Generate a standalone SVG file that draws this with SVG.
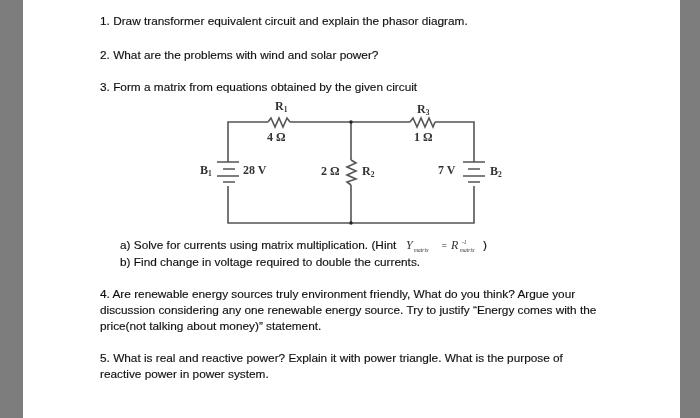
<svg xmlns="http://www.w3.org/2000/svg" width="700" height="418" viewBox="0 0 700 418">
<defs><filter id="b" x="0" y="0" width="1" height="1"><feGaussianBlur stdDeviation="0.3"/></filter></defs>
<style>
.t{font-family:"Liberation Sans",Arial,sans-serif;font-size:11.82px;fill:#111;stroke:#111;stroke-width:.15}
.c{font-family:"Liberation Serif","Times New Roman",serif;font-size:12px;font-weight:bold;fill:#333}
.s{font-size:7.5px}
.w{fill:none;stroke:#555;stroke-width:1.6}
.h{font-family:"Liberation Serif","Times New Roman",serif;font-style:italic;fill:#333}
</style>
<rect width="700" height="418" fill="#fff"/>
<rect x="0" y="0" width="23" height="418" fill="#7d7d7d"/>
<rect x="680" y="0" width="20" height="418" fill="#7d7d7d"/>
<g filter="url(#b)">
<g id="connectors">
<path class="w" d="M268 122H228V162M217 162H239M223 169H235M217 176H239M223 182H235M228 186V223H474V186M468 182H480M463 176H485M468 169H480M463 162H485M474 162V122H435M410 122H290M351 122V160M351 185V223"/>
</g>
<g id="R1"><path class="w" d="M268 122l3-4 4 9 4-9 4 9 4-9 3 4"/><text class="c" x="275" y="110">R<tspan class="s" dy="2">1</tspan></text><text class="c" x="267" y="141">4 Ω</text></g>
<g id="R3"><path class="w" d="M410 122l3-4 4 9 4-9 4 9 4-9 4 9 2-5"/><text class="c" x="417" y="113">R<tspan class="s" dy="2">3</tspan></text><text class="c" x="414" y="141">1 Ω</text></g>
<g id="R2"><path class="w" d="M351 160l5 3-9 4 9 4-9 4 9 4-9 3 4 3"/><text class="c" x="321" y="175">2 Ω</text><text class="c" x="362" y="175">R<tspan class="s" dy="2">2</tspan></text></g>
<g id="B1"><text class="c" x="200" y="174">B<tspan class="s" dy="2">1</tspan></text><text class="c" x="243" y="174">28 V</text></g>
<g id="B2"><text class="c" x="438" y="174">7 V</text><text class="c" x="490" y="175">B<tspan class="s" dy="2">2</tspan></text></g>
<circle cx="351" cy="122" r="1.7" fill="#222"/><circle cx="351" cy="223" r="1.7" fill="#222"/>
<text class="t" x="100" y="25">1. Draw transformer equivalent circuit and explain the phasor diagram.</text>
<text class="t" x="100" y="59">2. What are the problems with wind and solar power?</text>
<text class="t" x="100" y="91">3. Form a matrix from equations obtained by the given circuit</text>
<text class="t" x="120" y="249">a)  Solve for currents using matrix multiplication. (Hint</text>
<text class="h" x="406" y="249" font-size="12">Y</text><text class="h" x="414" y="252" font-size="5.5">matrix</text><text class="t" x="442" y="248" style="font-size:8px">=</text>
<text class="h" x="451" y="249" font-size="12">R</text><text class="h" x="460" y="252" font-size="5.5">matrix</text><text class="h" x="462" y="244" font-size="5.5">-1</text><text class="t" x="483" y="249">)</text>
<text class="t" x="120" y="266">b)  Find change in voltage required to double the currents.</text>
<text class="t" x="100" y="298">4. Are renewable energy sources truly environment friendly, What do you think? Argue your</text>
<text class="t" x="100" y="314">discussion considering any one renewable energy source. Try to justify “Energy comes with the</text>
<text class="t" x="100" y="330">price(not talking about money)” statement.</text>
<text class="t" x="100" y="362">5. What is real and reactive power? Explain it with power triangle. What is the purpose of</text>
<text class="t" x="100" y="378">reactive power in power system.</text>
</g>
</svg>
